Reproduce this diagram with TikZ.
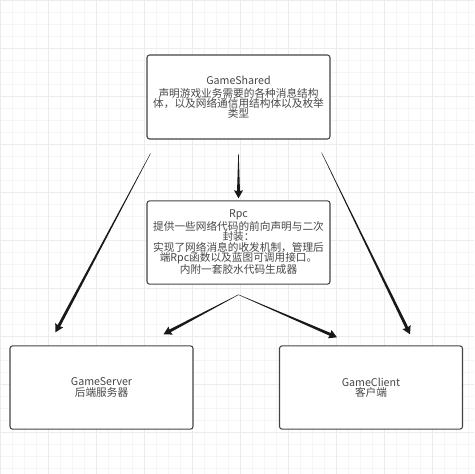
\documentclass[tikz,border=0pt]{standalone}
\usepackage{fontspec}
\setmainfont{Noto Sans CJK SC}
\usetikzlibrary{calc, arrows.meta}
\definecolor{boxline}{HTML}{444444}
\definecolor{boxtext}{HTML}{474747}
\tikzset{module/.style={draw=boxline, line width=0.8pt, rounded corners=2pt, fill=white, text=boxtext, align=center, minimum width=137.25pt, minimum height=62.5pt, inner sep=2pt, font=\fontsize{8}{7.6}\selectfont}}
\tikzset{
    gridline/.style={draw=gray!8, line width=0.4pt},
    flow/.style={
        fill=black!90,
        to path={
            let \p1=($(\tikztotarget)-(\tikztostart)$), \n1={atan2(\y1,\x1)} in
            ($(\tikztostart)+({\n1+90}:0.15pt)$)
            -- ($(\tikztotarget)+(\n1:-5.5pt)+({\n1+90}:1.1pt)$)
            -- ($(\tikztotarget)+(\n1:-6pt)+({\n1+90}:3.4pt)$)
            -- (\tikztotarget)
            -- ($(\tikztotarget)+(\n1:-6pt)+({\n1-90}:3.4pt)$)
            -- ($(\tikztotarget)+(\n1:-5.5pt)+({\n1-90}:1.1pt)$)
            -- ($(\tikztostart)+({\n1-90}:0.15pt)$) -- cycle
        }
    },
}

\begin{document}
\begin{tikzpicture}[x=0.75pt, y=-0.75pt]
    \fill[white] (0,0) rectangle (474,474);
    \useasboundingbox (0,0) rectangle (474,474);
    \draw[gridline, step=9pt] (0,0) grid (474,474);
    \draw[gridline, draw=gray!15, step=36pt] (0,0) grid (474,474);

    \node[module, minimum height=63pt] (shared) at (238.5,97) {GameShared\\[2pt]声明游戏业务需要的各种消息结构\\体，以及网络通信用结构体以及枚举\\类型};
    \node[module] (rpc) at (238.5,242.5) {Rpc\\提供一些网络代码的前向声明与二次\\封装：\\实现了网络消息的收发机制，管理后\\端Rpc函数以及蓝图可调用接口。\\内附一套胶水代码生成器};
    \node[module] (server) at (101.5,387.5) {GameServer\\后端服务器};
    \node[module] (client) at (371,387.5) {GameClient\\客户端};

    \coordinate (sharedout) at ([shift={(0,14)}]shared.south);
    \coordinate (rpcin) at ([shift={(0,-2)}]rpc.north);
    \coordinate (sharedleft) at ([shift={(4,14)}]shared.south west);
    \coordinate (serverin) at ([shift={(46,-13)}]server.north west);
    \coordinate (sharedright) at ([shift={(-9,13)}]shared.south east);
    \coordinate (clientin) at ([shift={(-53,-11)}]client.north east);
    \coordinate (rpcout) at ([shift={(0,10)}]rpc.south);
    \coordinate (rpcserver) at ([shift={(-30,-11)}]server.north east);
    \coordinate (rpcclient) at ([shift={(58,-8)}]client.north west);

    \fill[flow] (sharedout) to (rpcin);
    \fill[flow] (sharedleft) to (serverin);
    \fill[flow] (sharedright) to (clientin);
    \fill[flow] (rpcout) to (rpcserver);
    \fill[flow] (rpcout) to (rpcclient);
\end{tikzpicture}
\end{document}
